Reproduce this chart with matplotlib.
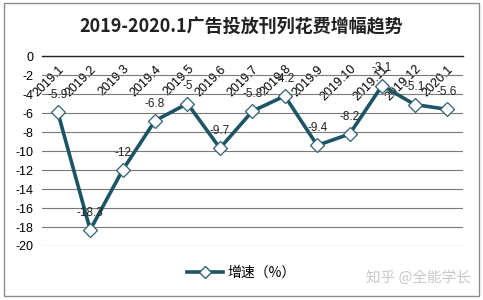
import matplotlib.pyplot as plt
from matplotlib.patches import Rectangle
from matplotlib.lines import Line2D

plt.rcParams['font.family'] = ['Noto Sans CJK SC', 'DejaVu Sans']

MONTHS = ["2019.1", "2019.2", "2019.3", "2019.4", "2019.5", "2019.6", "2019.7",
          "2019.8", "2019.9", "2019.10", "2019.11", "2019.12", "2020.1"]
GROWTH = [-5.9, -18.3, -12, -6.8, -5, -9.7, -5.8, -4.2, -9.4, -8.2, -3.1, -5.1, -5.6]
YTICKS = [0, -2, -4, -6, -8, -10, -12, -14, -16, -18, -20]

LINE_C = "#1c5566"
NUMFONT = ["Liberation Sans", "DejaVu Sans"]

fig = plt.figure(figsize=(4.83, 3.0), dpi=100)
ax = fig.add_axes([0.086, 0.18, 0.873, 0.633])

x = list(range(len(MONTHS)))
ax.plot(x, GROWTH, color=LINE_C, lw=2.6, marker="D", ms=7,
        markerfacecolor="white", markeredgecolor="#2d6270", markeredgewidth=0.9, zorder=3)

for xi, v in zip(x, GROWTH):
    ax.annotate(f"{v:g}", (xi, v), xytext=(0, 8), textcoords="offset points",
                ha="center", va="bottom", fontsize=8.5, color="#222222", zorder=4,
                family=NUMFONT)

ax.set_xlim(-0.5, len(MONTHS) - 0.5)
ax.set_ylim(-20, 0)
ax.set_yticks(YTICKS)
ax.set_yticklabels([str(t) for t in YTICKS], fontsize=9, family=NUMFONT)
ax.tick_params(axis="y", length=0, pad=6)
ax.grid(axis="y", color="#7a7a7a", lw=0.8)
ax.set_axisbelow(True)

# category axis crosses at 0
ax.spines["bottom"].set_position(("data", 0))
ax.spines["bottom"].set_color("#222222")
ax.spines["bottom"].set_linewidth(1.0)
for s in ["top", "right", "left"]:
    ax.spines[s].set_visible(False)
ax.set_xticks(x)
ax.set_xticklabels(MONTHS, rotation=45, ha="right", rotation_mode="anchor",
                   fontsize=9, family=NUMFONT)
ax.tick_params(axis="x", length=0, pad=5)

fig.text(0.5, 0.91, "2019-2020.1广告投放刊列花费增幅趋势", ha="center", va="center",
         fontsize=13, fontweight="bold", color="#222222")

handle = Line2D([], [], color=LINE_C, lw=2.6, marker="D", ms=6,
                markerfacecolor="white", markeredgecolor="#2d6270")
fig.legend([handle], ["增速（%）"], loc="center", bbox_to_anchor=(0.5, 0.09),
           frameon=False, fontsize=10, handlelength=2.6, handletextpad=0.3)

fig.text(0.975, 0.075, "知乎 @全能学长", ha="right", va="center", fontsize=10.5,
         color="#c8c8c8")

fig.patches.append(Rectangle((0.009, 0.012), 0.982, 0.978, transform=fig.transFigure,
                             fill=False, edgecolor="#8c8c8c", lw=1.0))

fig.savefig("out.png", dpi=100)
